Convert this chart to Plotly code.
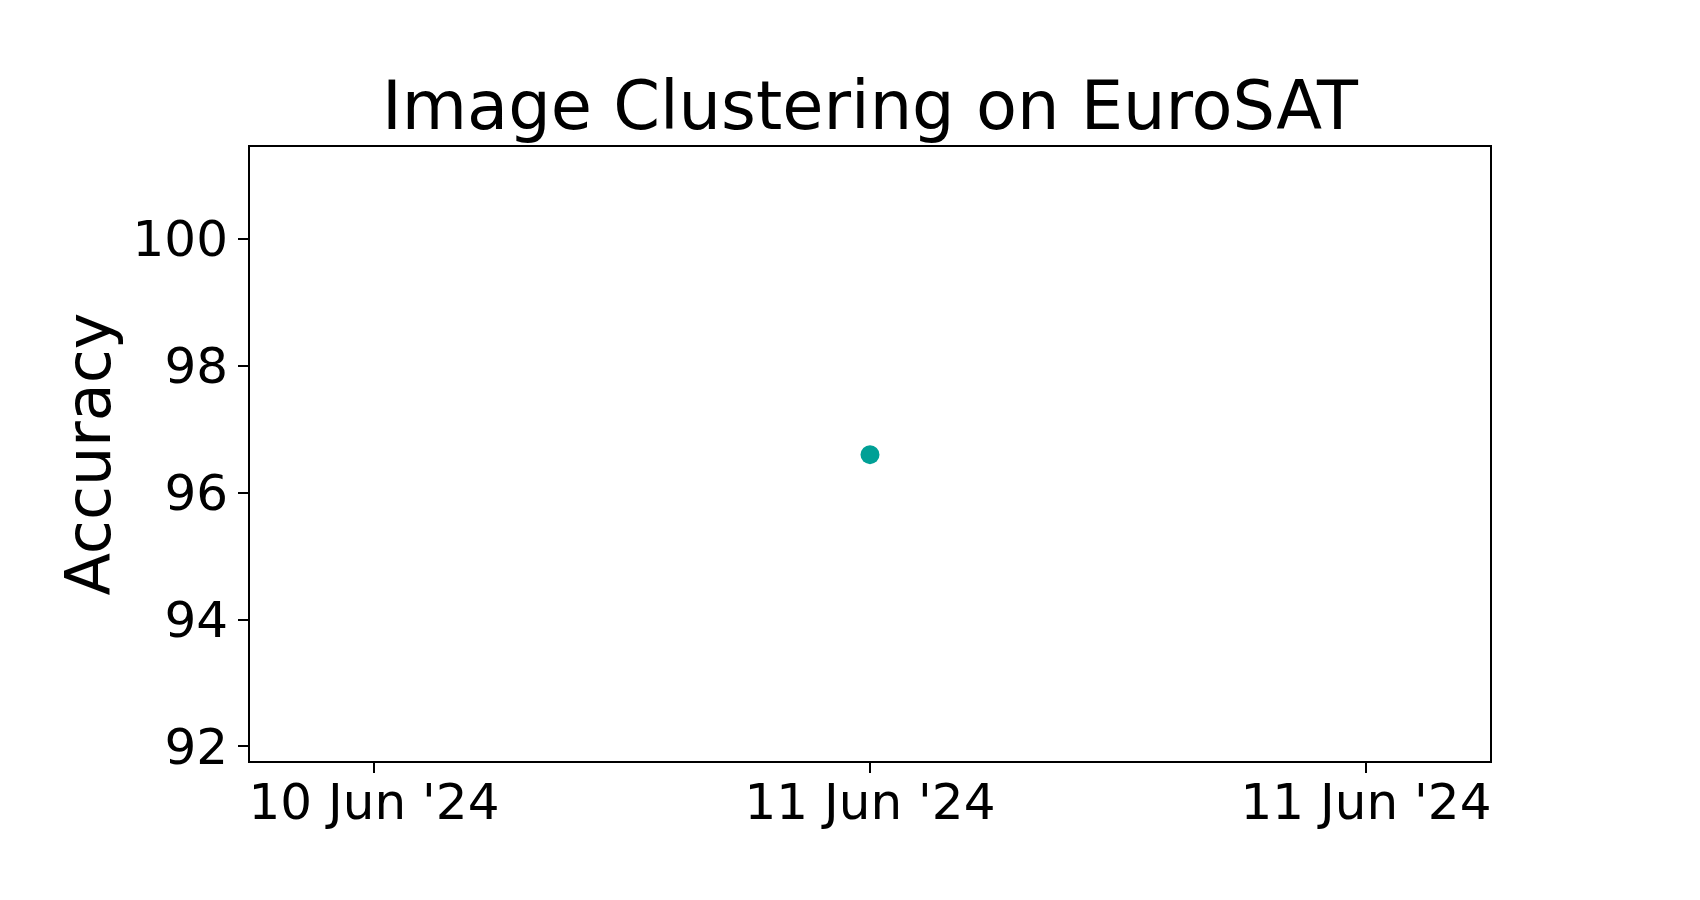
import plotly.graph_objects as go

# Data
dates = ["2024-06-11 00:00"]
accuracy = [96.6]

x_tickvals = ["2024-06-10 12:00", "2024-06-11 00:00", "2024-06-11 12:00"]
x_ticktext = ["10 Jun '24", "11 Jun '24", "11 Jun '24"]
y_tickvals = [92, 94, 96, 98, 100]

title_text = "Image Clustering on EuroSAT"
y_title = "Accuracy"

FONT = "DejaVu Sans"

fig = go.Figure()
fig.add_trace(go.Scatter(
    x=dates, y=accuracy, mode="markers",
    marker=dict(color="#00A096", size=19, line=dict(width=0)),
    showlegend=False,
))

fig.update_layout(
    width=1700, height=900,
    paper_bgcolor="white", plot_bgcolor="white",
    margin=dict(l=242, r=218, t=139, b=147, autoexpand=False),
    font=dict(family=FONT, color="black"),
    title=dict(text=title_text, font=dict(family=FONT, size=67, color="black"),
               x=0.5, xanchor="center", xref="paper",
               y=1 - 98 / 900, yanchor="middle", yref="container"),
)

fig.update_xaxes(
    type="date",
    range=["2024-06-10 09:00", "2024-06-11 15:00"],
    tickmode="array", tickvals=x_tickvals, ticktext=x_ticktext,
    tickfont=dict(family=FONT, size=50, color="black"),
    ticks="outside", ticklen=10, tickwidth=2, tickcolor="black",
    ticklabelstandoff=-14,
    showline=True, linewidth=2, linecolor="black", mirror=True,
    showgrid=False, zeroline=False, automargin=False,
)
fig.update_yaxes(
    range=[91.77, 101.45],
    tickmode="array", tickvals=y_tickvals,
    tickfont=dict(family=FONT, size=50, color="black"),
    ticks="outside", ticklen=10, tickwidth=2, tickcolor="black",
    showline=True, linewidth=2, linecolor="black", mirror=True,
    showgrid=False, zeroline=False, automargin=False,
    title=dict(text=y_title, font=dict(family=FONT, size=62, color="black"), standoff=2),
)

fig.write_html("out.html")
